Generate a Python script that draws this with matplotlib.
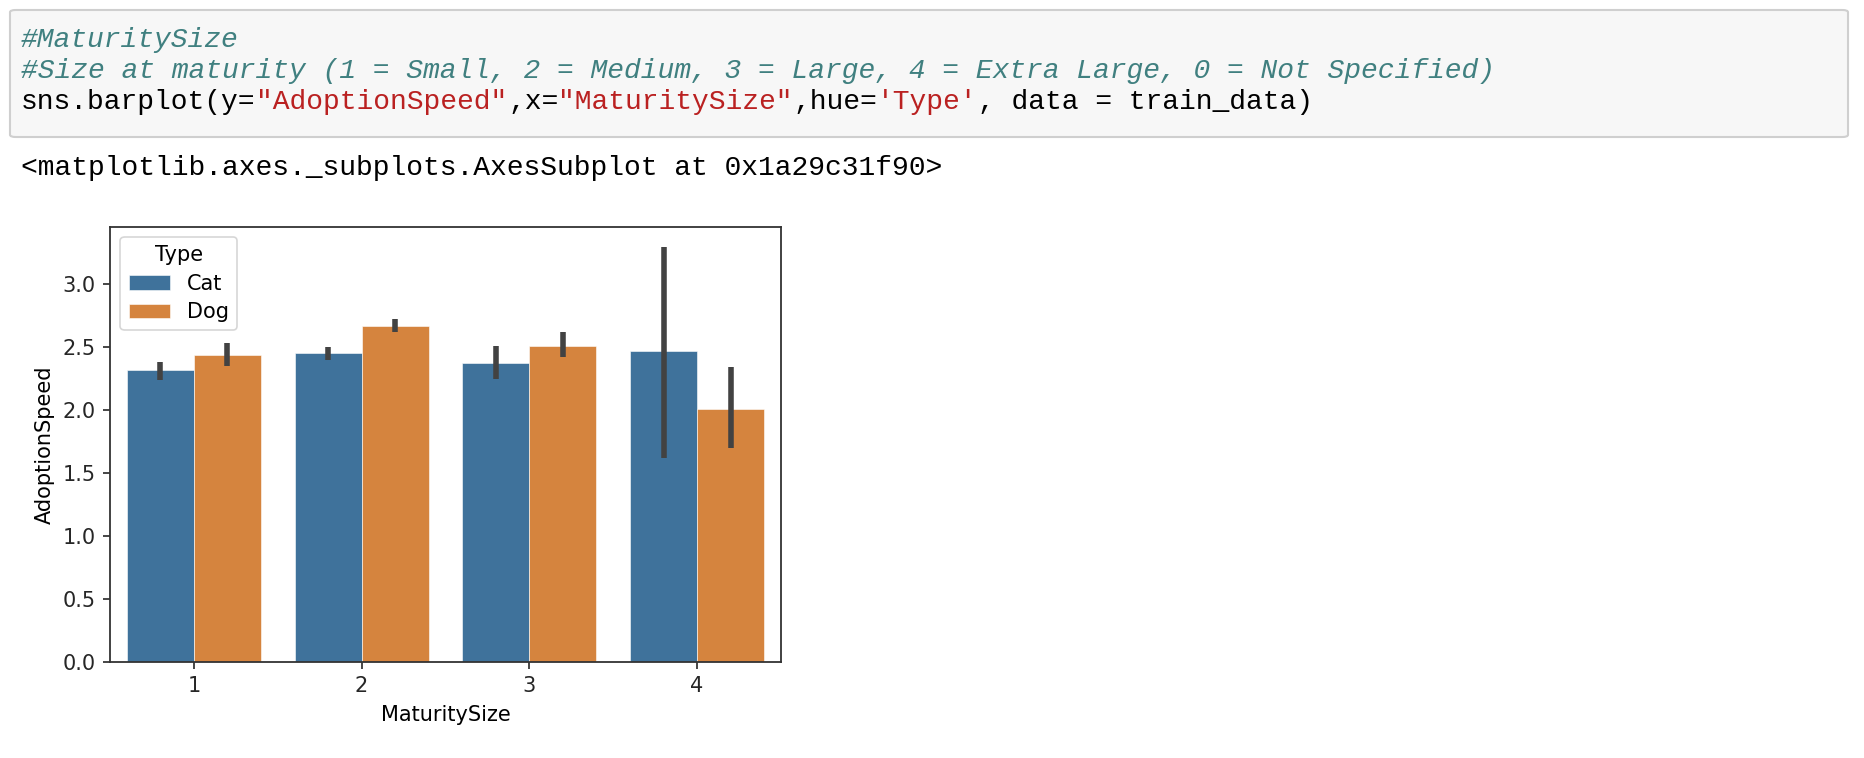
import matplotlib
matplotlib.use('Agg')
import matplotlib.pyplot as plt
from matplotlib.patches import FancyBboxPatch

# valores (media e intervalo de confianca)
maturitySizes = ['1', '2', '3', '4']
types = ['Cat', 'Dog']
catMeans = [2.32, 2.45, 2.37, 2.47]
dogMeans = [2.44, 2.67, 2.51, 2.01]
catLow = [2.24, 2.40, 2.25, 1.62]
catHigh = [2.38, 2.50, 2.51, 3.29]
dogLow = [2.35, 2.62, 2.42, 1.70]
dogHigh = [2.53, 2.72, 2.62, 2.34]

codeComment1 = '#MaturitySize'
codeComment2 = '#Size at maturity (1 = Small, 2 = Medium, 3 = Large, 4 = Extra Large, 0 = Not Specified)'
codeParts = [
    ('sns.barplot(y=', 'black'),
    ('"AdoptionSpeed"', '#ba2121'),
    (',x=', 'black'),
    ('"MaturitySize"', '#ba2121'),
    (',hue=', 'black'),
    ("'Type'", '#ba2121'),
    (', data = train_data)', 'black'),
]
outText = '<matplotlib.axes._subplots.AxesSubplot at 0x1a29c31f90>'

W, H = 1864, 758
fig = plt.figure(figsize=(W / 100, H / 100), dpi=100)
monoFont = 'Liberation Mono'
fontSize = 20.15
charW = fontSize * 100 / 72 * 0.6

# celula de codigo
box = FancyBboxPatch((10 / W, 1 - 137 / H), 1838 / W, 127 / H,
                     boxstyle='round,pad=0,rounding_size=0.003',
                     transform=fig.transFigure, facecolor='#f7f7f7',
                     edgecolor='#cfcfcf', linewidth=1.5)
fig.patches.append(box)

x0 = 21
fig.text(x0 / W, 1 - 40 / H, codeComment1, family=monoFont, style='italic',
         size=fontSize, color='#408080', va='center')
fig.text(x0 / W, 1 - 71 / H, codeComment2, family=monoFont, style='italic',
         size=fontSize, color='#408080', va='center')
n = 0
for txt, cor in codeParts:
    fig.text((x0 + n * charW) / W, 1 - 102 / H, txt, family=monoFont,
             size=fontSize, color=cor, va='center')
    n += len(txt)

fig.text(x0 / W, 1 - 168 / H, outText, family=monoFont, size=fontSize,
         color='black', va='center')

# grafico de barras
ax = fig.add_axes([110 / W, 1 - 662.3 / H, 671 / W, 435.6 / H])
catColor = '#3f729b'
dogColor = '#d5843e'
errColor = '#424242'
barW = 0.4
pos = list(range(len(maturitySizes)))
catPos = [p - barW / 2 for p in pos]
dogPos = [p + barW / 2 for p in pos]

ax.bar(catPos, catMeans, width=barW, color=catColor, label=types[0],
       edgecolor='white', linewidth=0.4)
ax.bar(dogPos, dogMeans, width=barW, color=dogColor, label=types[1],
       edgecolor='white', linewidth=0.4)

for i in range(len(pos)):
    ax.plot([catPos[i], catPos[i]], [catLow[i], catHigh[i]], color=errColor,
            linewidth=4.0, solid_capstyle='butt')
    ax.plot([dogPos[i], dogPos[i]], [dogLow[i], dogHigh[i]], color=errColor,
            linewidth=4.0, solid_capstyle='butt')

ax.set_xlim(-0.5, len(pos) - 0.5)
ax.set_xticks(pos)
ax.set_xticklabels(maturitySizes)
ax.set_yticks([0.0, 0.5, 1.0, 1.5, 2.0, 2.5, 3.0])
ax.set_xlabel('MaturitySize', fontsize=15, labelpad=6)
ax.set_ylabel('AdoptionSpeed', fontsize=15, labelpad=6)
ax.tick_params(labelsize=15, length=5.2, width=1.2, pad=5, colors='#262626')
for s in ax.spines.values():
    s.set_linewidth(1.3)
    s.set_color('#333333')

leg = ax.legend(title='Type', loc='upper left', fontsize=15, title_fontsize=15,
                labelspacing=0.4)
leg.get_frame().set_linewidth(1.2)

plt.savefig('out.png', dpi=100)
plt.close()
